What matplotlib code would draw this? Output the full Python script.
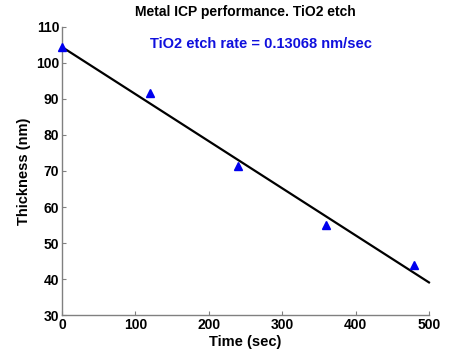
import numpy as np
import matplotlib
matplotlib.use('Agg')
import matplotlib.pyplot as plt

# measured thickness vs etch time
t = [0, 120, 240, 360, 480]
thick = [104.5, 91.7, 71.5, 55.1, 43.9]

rate = 0.13068      # nm/sec, from linear fit
t0_thick = 104.4    # fit intercept
t_fit = [0, 500]

plt.rcParams['font.family'] = ['Liberation Sans', 'DejaVu Sans']
plt.rcParams['font.weight'] = 'bold'

fig = plt.figure(figsize=(4.74, 3.54), dpi=100)
ax = fig.add_axes([0.131, 0.110, 0.774, 0.814])

ax.plot(t, thick, linestyle='none', marker='^', color='#0000ee', markersize=6, clip_on=False, zorder=3)
fit = [t0_thick - rate * x for x in t_fit]
ax.plot(t_fit, fit, color='black', linewidth=1.6, clip_on=False)

ax.text(120, 105.2, 'TiO2 etch rate = %.5f nm/sec' % rate, color='#1010dd',
        fontsize=10.5, fontweight='bold', va='center', ha='left')

ax.set_xlim(0, 500)
ax.set_ylim(30, 110)
ax.set_xticks(np.arange(0, 501, 100))
ax.set_yticks(np.arange(30, 111, 10))
ax.set_xlabel('Time (sec)', fontsize=10.5, fontweight='bold', labelpad=2)
ax.set_ylabel('Thickness (nm)', fontsize=10.5, fontweight='bold', labelpad=4)
ax.set_title('Metal ICP performance. TiO2 etch', fontsize=10, fontweight='bold', pad=8)

for s in ['top', 'right']:
    ax.spines[s].set_visible(False)
for s in ['left', 'bottom']:
    ax.spines[s].set_color('#808080')
    ax.spines[s].set_linewidth(1.0)
ax.tick_params(direction='in', length=3, color='#808080', labelsize=10, pad=2)
for lab in ax.get_xticklabels() + ax.get_yticklabels():
    lab.set_fontweight('bold')

fig.savefig('out.png', dpi=100)
